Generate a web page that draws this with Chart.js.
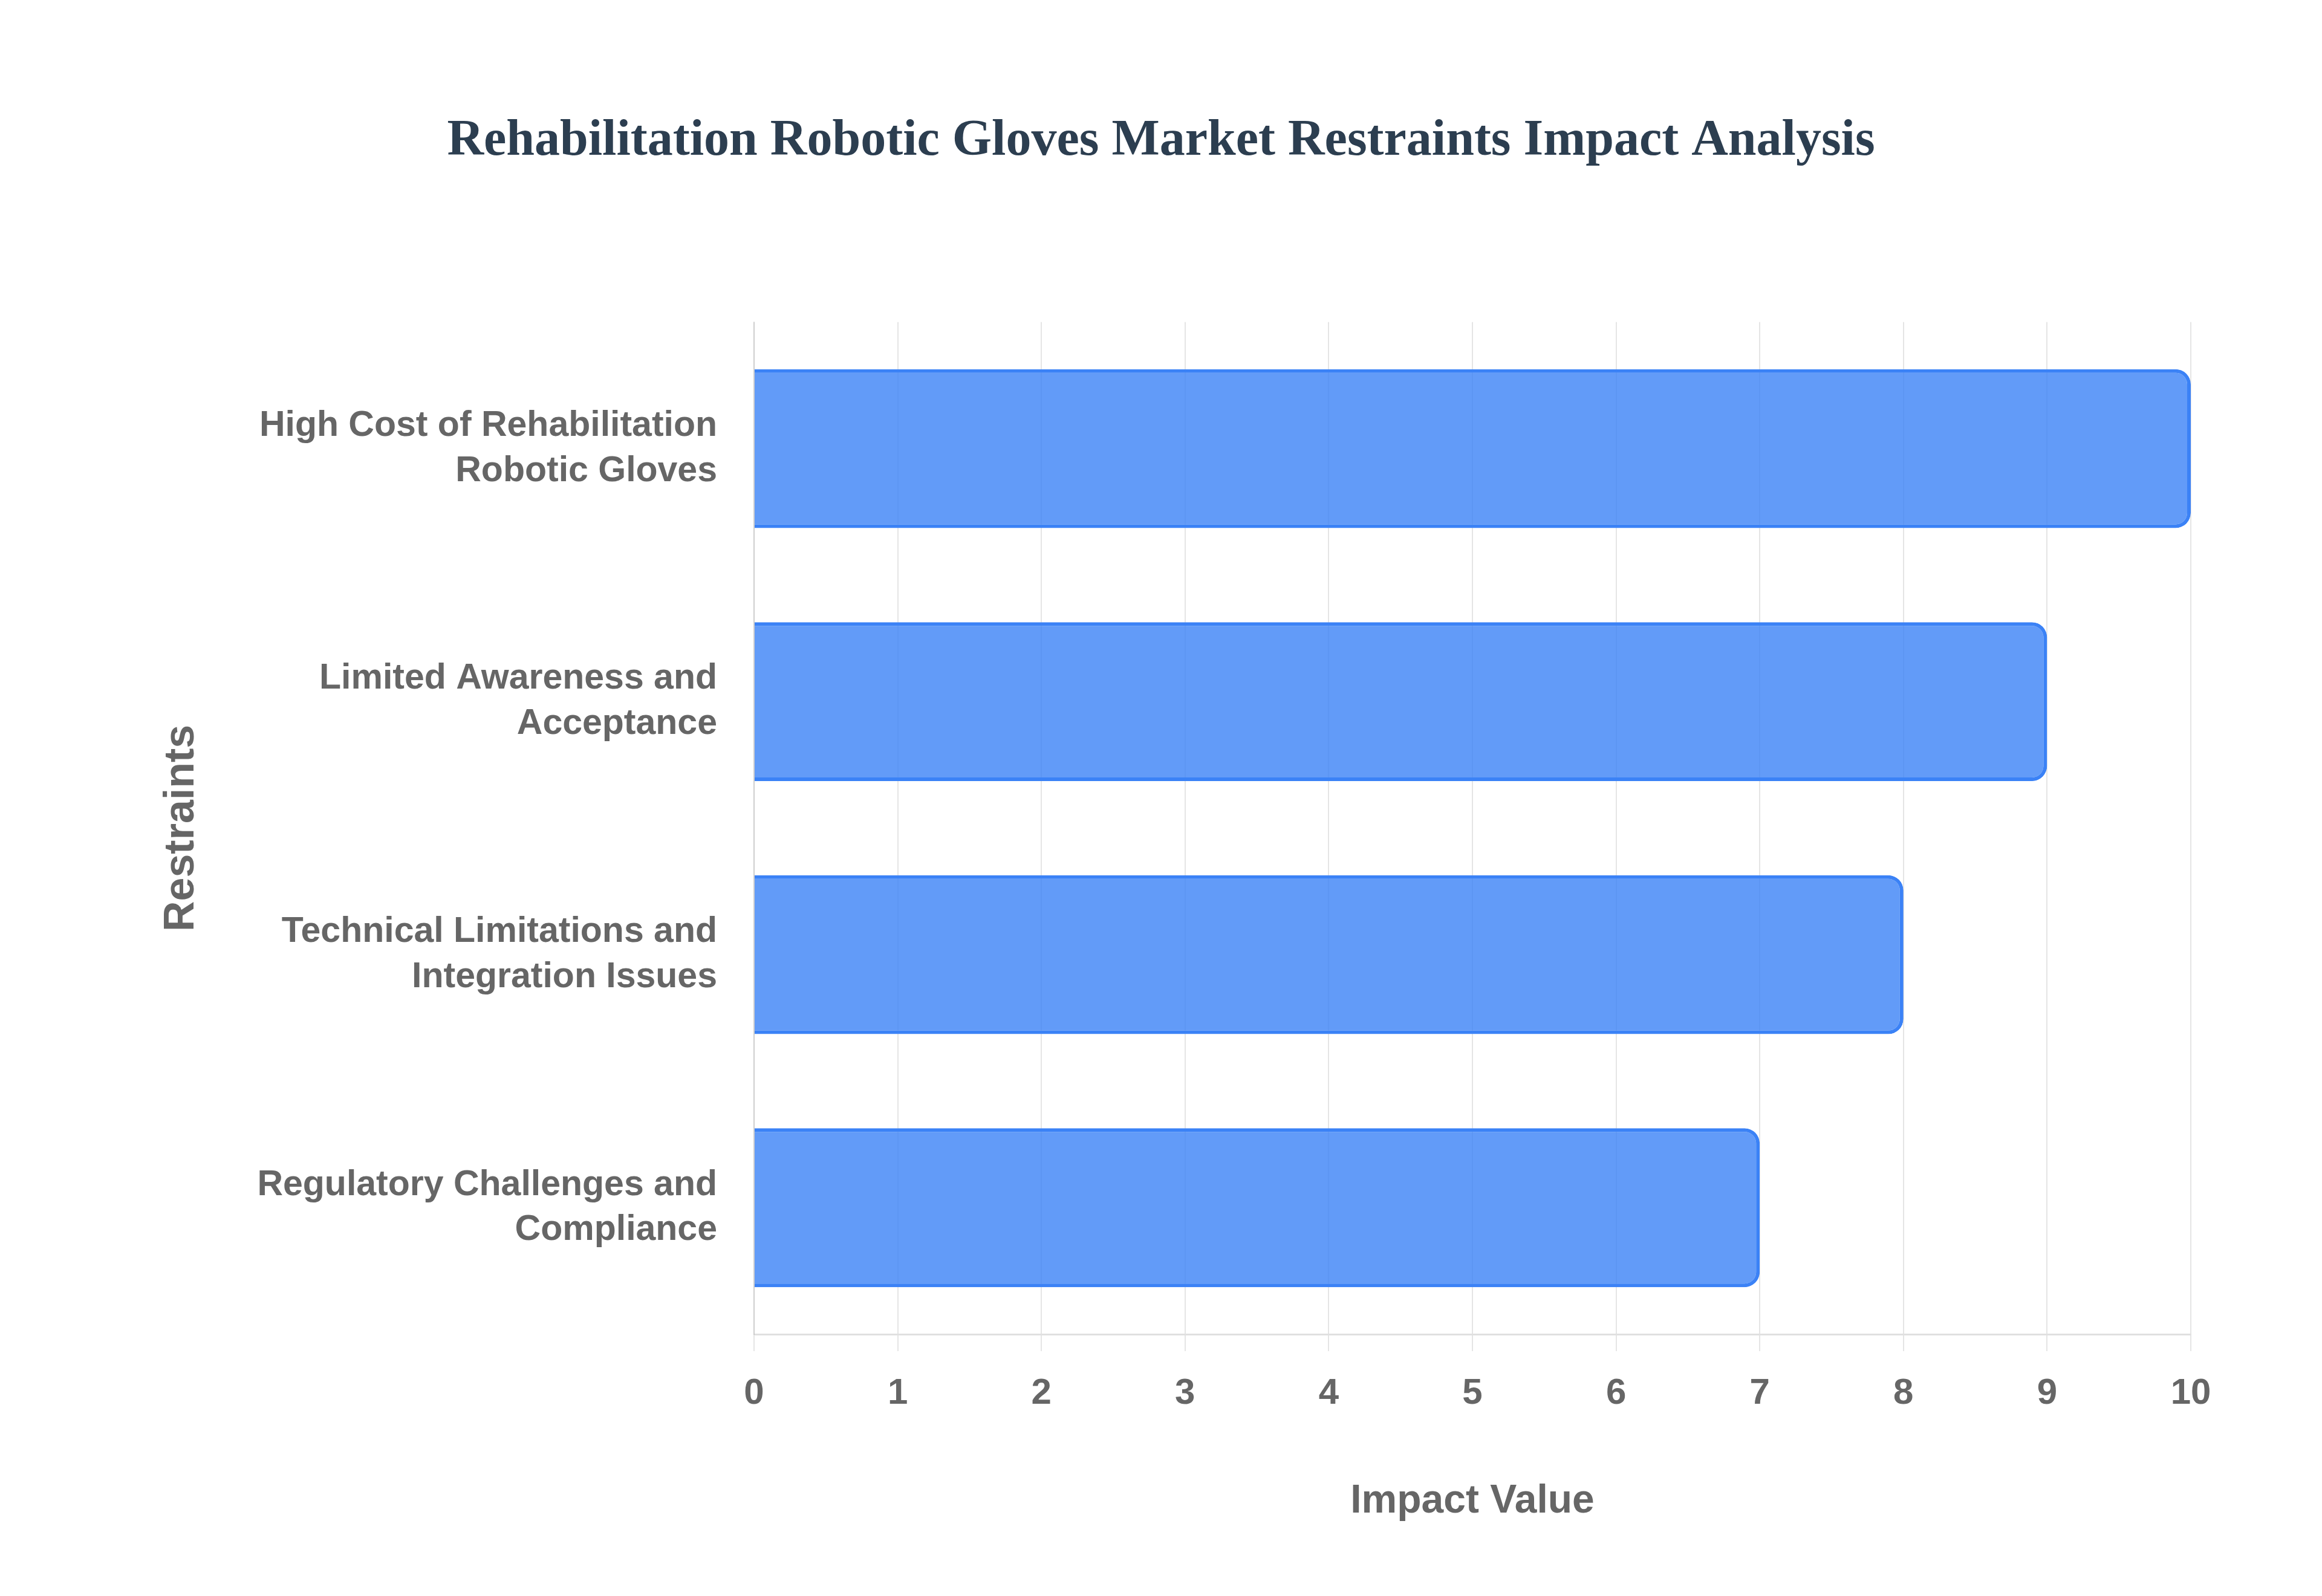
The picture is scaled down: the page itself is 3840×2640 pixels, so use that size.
<!DOCTYPE html>
<html>
<head>
<meta charset="utf-8">
<script src="https://cdn.jsdelivr.net/npm/chart.js@4.4.1/dist/chart.umd.min.js"></script>
<style>
  html, body { margin: 0; padding: 0; background: #ffffff; }
  #wrap { width: 3840px; height: 2640px; position: relative; }
</style>
</head>
<body>
<div id="wrap"><canvas id="chart"></canvas></div>
<script>
// ---- data ----
const chartTitle = "Rehabilitation Robotic Gloves Market Restraints Impact Analysis";
const restraintLabels = [
  ["High Cost of Rehabilitation", "Robotic Gloves"],
  ["Limited Awareness and", "Acceptance"],
  ["Technical Limitations and", "Integration Issues"],
  ["Regulatory Challenges and", "Compliance"]
];
const impactValues = [10, 9, 8, 7];
const xAxisTitle = "Impact Value";
const yAxisTitle = "Restraints";
const xMin = 0;
const xMax = 10;
const xStep = 1;

// ---- chart ----
const SANS = "'Liberation Sans', Arial, Helvetica, sans-serif";
const SERIF = "'Liberation Serif', 'Times New Roman', serif";
const GRID = "rgba(0,0,0,0.1)";
const TEXT = "#666666";

new Chart(document.getElementById('chart'), {
  type: 'bar',
  data: {
    labels: restraintLabels,
    datasets: [{
      label: 'Impact Value',
      data: impactValues,
      backgroundColor: 'rgba(59,130,246,0.8)',
      borderColor: 'rgb(59,130,246)',
      borderWidth: 6,
      borderRadius: 25,
      borderSkipped: 'start',
      barPercentage: 0.785,
      categoryPercentage: 0.8
    }]
  },
  options: {
    indexAxis: 'y',
    responsive: true,
    maintainAspectRatio: false,
    devicePixelRatio: 1,
    animation: false,
    layout: { padding: { left: 0, right: 0, top: 0, bottom: 0 } },
    plugins: {
      legend: { display: false },
      tooltip: { enabled: false },
      title: {
        display: true,
        text: chartTitle,
        color: '#2c3e50',
        font: { family: SERIF, size: 84, weight: 'bold', lineHeight: 1.2 },
        padding: { top: 184, bottom: 248 }
      }
    },
    scales: {
      x: {
        type: 'linear',
        min: xMin,
        max: xMax,
        afterFit: (scale) => { scale.height = 433; },
        ticks: {
          stepSize: xStep,
          color: TEXT,
          padding: 34,
          font: { family: SANS, size: 60, weight: 'bold', lineHeight: 1.2 }
        },
        grid: { color: GRID, lineWidth: 2, tickLength: 28, drawTicks: true },
        border: { display: true, color: 'rgba(0,0,0,0.12)', width: 3 },
        title: {
          display: true,
          text: xAxisTitle,
          color: TEXT,
          font: { family: SANS, size: 66, weight: 'bold', lineHeight: 1.2 },
          padding: { top: 0, bottom: 117 }
        }
      },
      y: {
        afterFit: (scale) => { scale.width = 1247; },
        ticks: {
          color: TEXT,
          padding: 61,
          font: { family: SANS, size: 59, weight: 'bold', lineHeight: 1.27 }
        },
        grid: { display: false, drawTicks: false },
        border: { display: true, color: GRID, width: 2 },
        title: {
          display: true,
          text: yAxisTitle,
          color: TEXT,
          font: { family: SANS, size: 70, weight: 'bold', lineHeight: 1.2 },
          padding: { top: 259, bottom: 0 }
        }
      },
      // empty right-hand margin axis (layout spacer only)
      ySpacer: {
        type: 'category',
        axis: 'y',
        position: 'right',
        afterFit: (scale) => { scale.width = 217; },
        ticks: { display: false },
        grid: { display: false, drawTicks: false },
        border: { display: false },
        title: { display: false }
      }
    }
  }
});
</script>
</body>
</html>
